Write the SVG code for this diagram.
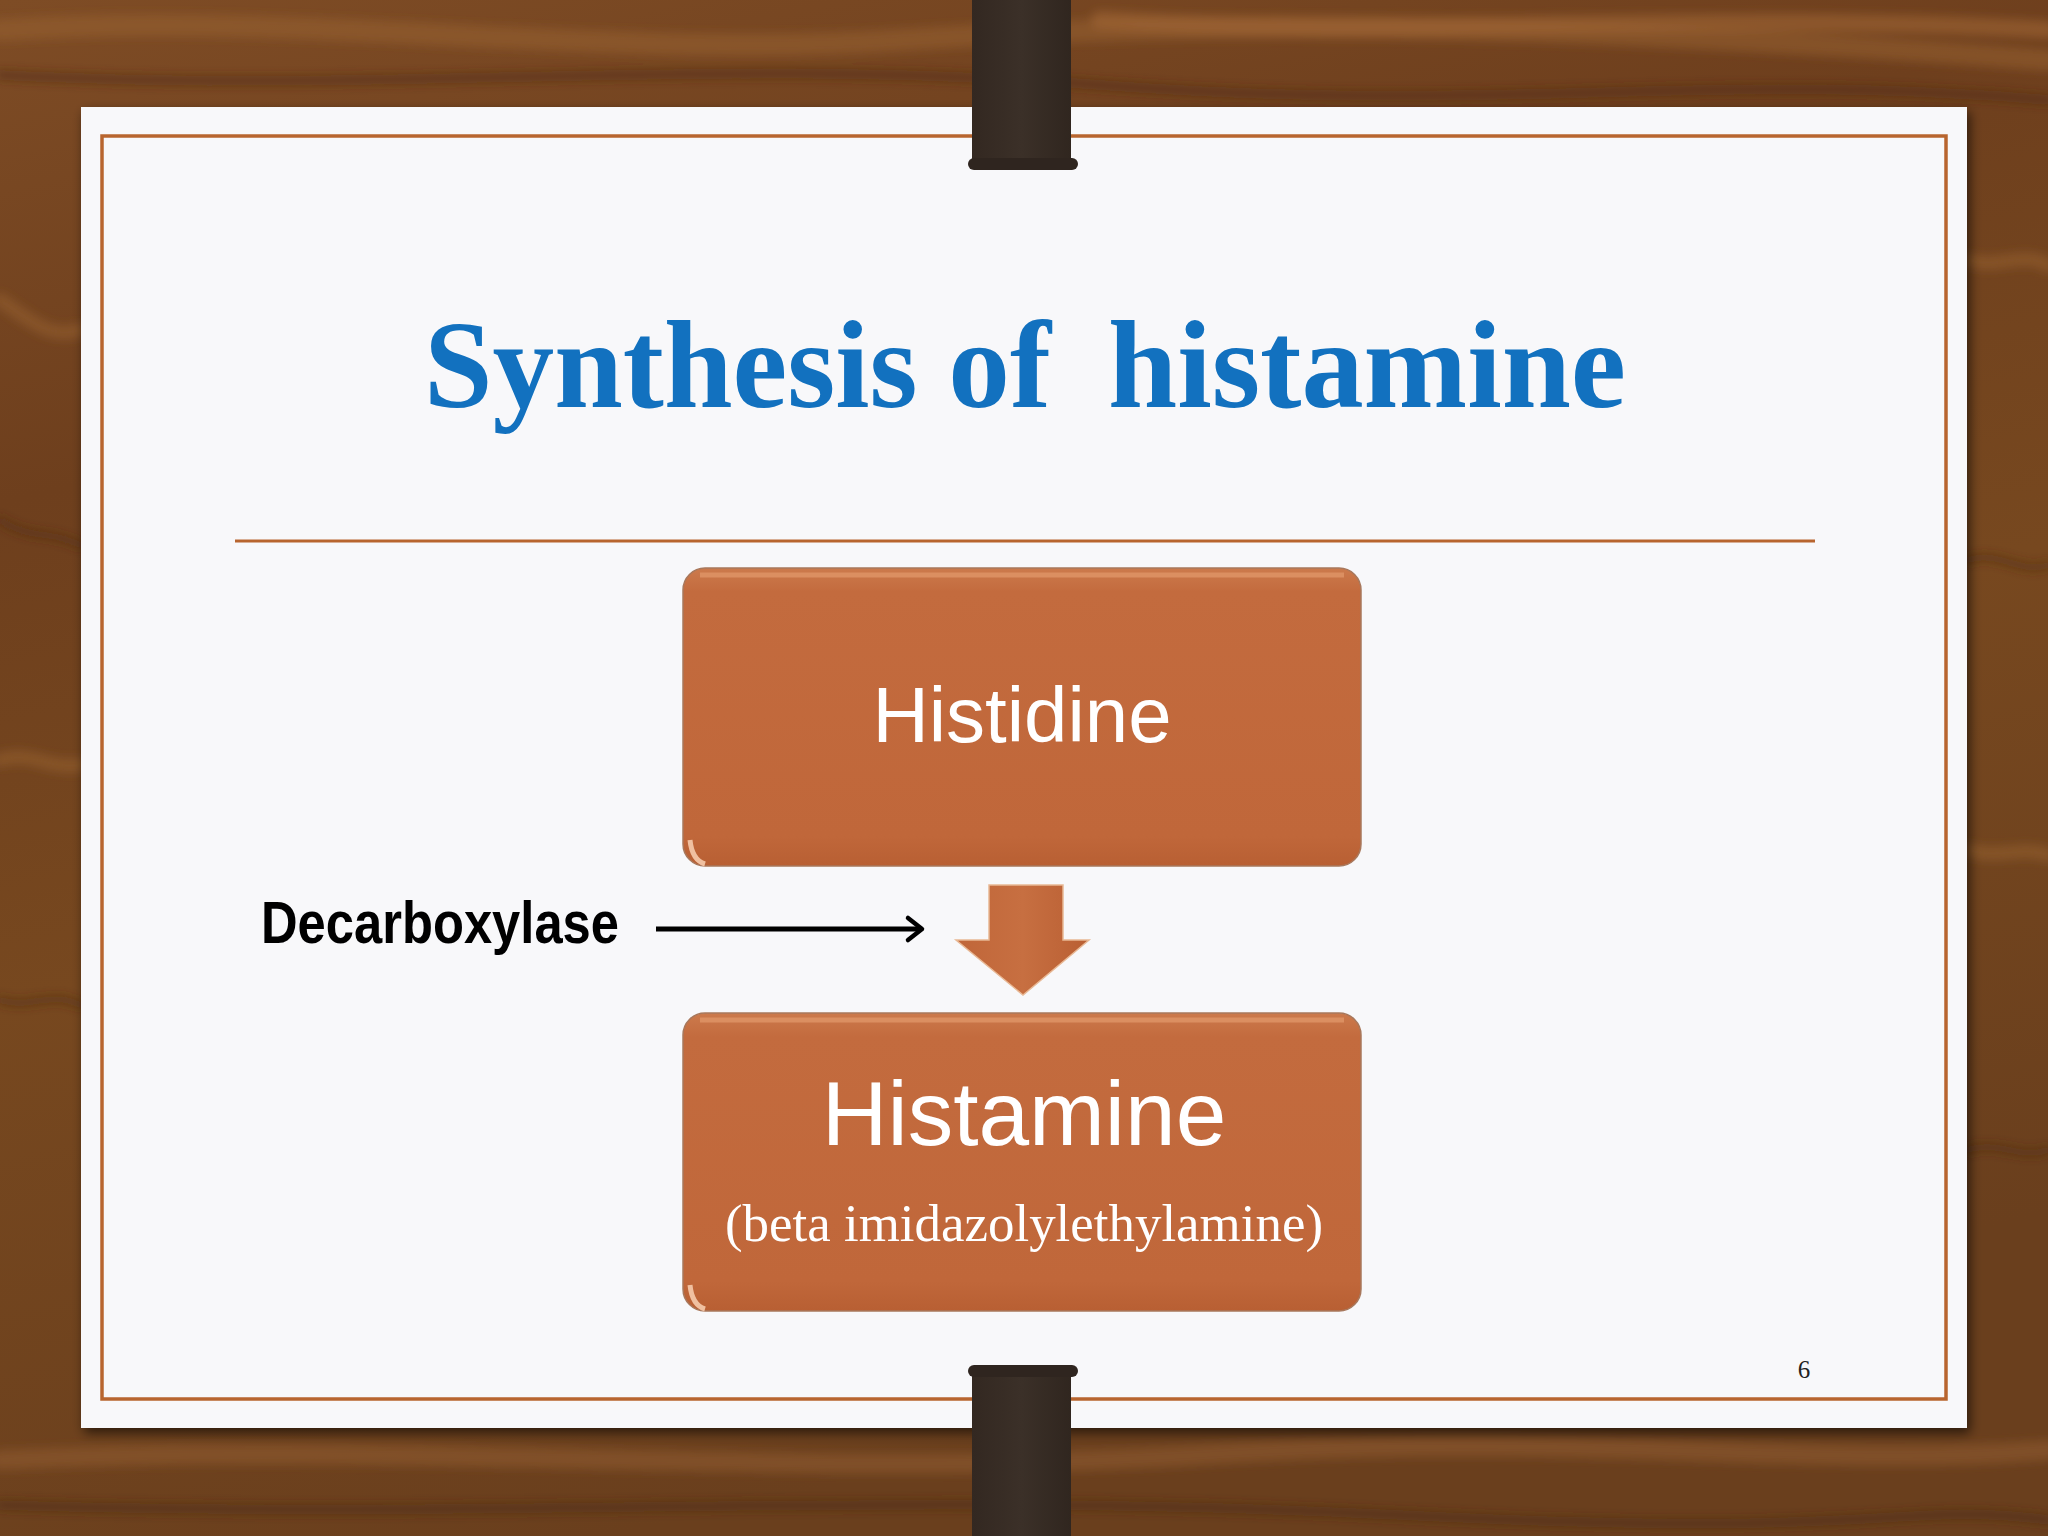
<svg xmlns="http://www.w3.org/2000/svg" width="2048" height="1536" viewBox="0 0 2048 1536">
<defs>
<linearGradient id="wood" x1="0" y1="0" x2="0.3" y2="1">
<stop offset="0" stop-color="#7e4c25"/>
<stop offset="0.3" stop-color="#6e3f1d"/>
<stop offset="0.6" stop-color="#77481f"/>
<stop offset="1" stop-color="#6a3f1d"/>
</linearGradient>
<linearGradient id="boxfill" x1="0" y1="0" x2="0" y2="1">
<stop offset="0" stop-color="#cc7a4c"/>
<stop offset="0.08" stop-color="#c36b3e"/>
<stop offset="0.9" stop-color="#c0673a"/>
<stop offset="1" stop-color="#b85f33"/>
</linearGradient>
<linearGradient id="arrowfill" x1="0" y1="0" x2="1" y2="0">
<stop offset="0" stop-color="#c06639"/>
<stop offset="0.5" stop-color="#c76f41"/>
<stop offset="1" stop-color="#b95f33"/>
</linearGradient>
<linearGradient id="clip" x1="0" y1="0" x2="1" y2="0">
<stop offset="0" stop-color="#332821"/>
<stop offset="0.5" stop-color="#3b3028"/>
<stop offset="1" stop-color="#30261f"/>
</linearGradient>
<filter id="shadow" x="-5%" y="-5%" width="110%" height="110%">
<feGaussianBlur in="SourceAlpha" stdDeviation="6"/>
<feOffset dx="3" dy="5"/>
<feComponentTransfer><feFuncA type="linear" slope="0.6"/></feComponentTransfer>
<feMerge><feMergeNode/><feMergeNode in="SourceGraphic"/></feMerge>
</filter>
<filter id="soft" x="-5%" y="-50%" width="110%" height="200%">
<feGaussianBlur stdDeviation="5"/>
</filter>
<marker id="open" viewBox="0 0 24 30" refX="20" refY="15" markerWidth="24" markerHeight="30" markerUnits="userSpaceOnUse" orient="auto">
<path d="M6 4 L20 15 L6 26" fill="none" stroke="#000" stroke-width="4.5" stroke-linecap="round" stroke-linejoin="round"/>
</marker>
</defs>
<style>
.frame{fill:none;stroke:#b8652f;stroke-width:3.5}
.box{fill:url(#boxfill);stroke:#a8785c;stroke-width:1.5}
.hl{fill:none;stroke:#e39a6c;stroke-width:5;stroke-opacity:0.7}
.lbl{font-family:"Liberation Sans",Arial,sans-serif;fill:#ffffff;text-anchor:middle}
.serif{font-family:"Liberation Serif","Times New Roman",serif}
.streak{fill:none;stroke-linecap:round}
</style>

<!-- wood background -->
<rect x="0" y="0" width="2048" height="1536" fill="url(#wood)"/>
<g class="streak" filter="url(#soft)">
<path d="M0 30 C300 10 600 60 900 40 S1500 20 2048 60" stroke="#9a6232" stroke-width="22" stroke-opacity="0.5"/>
<path d="M0 75 C400 95 700 55 1100 85 S1700 70 2048 100" stroke="#4e2b12" stroke-width="10" stroke-opacity="0.5"/>
<path d="M1100 20 C1400 40 1700 10 2048 30" stroke="#a86c38" stroke-width="18" stroke-opacity="0.5"/>
<path d="M0 1460 C400 1440 800 1480 1200 1455 S1800 1470 2048 1450" stroke="#9a6232" stroke-width="20" stroke-opacity="0.45"/>
<path d="M0 1505 C500 1520 900 1490 1400 1515 S1900 1500 2048 1520" stroke="#4a2810" stroke-width="10" stroke-opacity="0.5"/>
<path d="M0 300 C30 320 50 340 80 330" stroke="#9a6232" stroke-width="14" stroke-opacity="0.5"/>
<path d="M0 520 C30 540 50 530 80 545" stroke="#4e2b12" stroke-width="8" stroke-opacity="0.5"/>
<path d="M0 760 C30 750 50 770 80 765" stroke="#9a6232" stroke-width="14" stroke-opacity="0.5"/>
<path d="M0 1000 C30 1010 50 990 80 1005" stroke="#4e2b12" stroke-width="8" stroke-opacity="0.5"/>
<path d="M1968 260 C2000 270 2020 250 2048 265" stroke="#9a6232" stroke-width="14" stroke-opacity="0.5"/>
<path d="M1968 560 C2000 550 2020 575 2048 565" stroke="#4e2b12" stroke-width="8" stroke-opacity="0.5"/>
<path d="M1968 850 C2000 860 2020 845 2048 855" stroke="#9a6232" stroke-width="14" stroke-opacity="0.5"/>
<path d="M1968 1150 C2000 1140 2020 1160 2048 1150" stroke="#4e2b12" stroke-width="8" stroke-opacity="0.5"/>
</g>

<!-- card -->
<g id="card">
<rect x="81" y="107" width="1886" height="1321" fill="#f8f8fa" filter="url(#shadow)"/>
<rect class="frame" x="102" y="136" width="1844" height="1263"/>
<line x1="235" y1="541" x2="1815" y2="541" stroke="#b8652f" stroke-width="3"/>
</g>

<!-- clips -->
<g id="clip-top">
<rect x="972" y="0" width="99" height="168" fill="url(#clip)"/>
<rect x="968" y="158" width="110" height="12" rx="6" fill="#2f251f"/>
</g>
<g id="clip-bottom">
<rect x="972" y="1368" width="99" height="168" fill="url(#clip)"/>
<rect x="968" y="1365" width="110" height="12" rx="6" fill="#2f251f"/>
</g>

<!-- title -->
<g id="title" class="serif" font-weight="bold" font-size="124" fill="#1271bf">
<text x="424" y="407" textLength="627" lengthAdjust="spacingAndGlyphs">Synthesis of</text>
<text x="1108" y="407" textLength="518" lengthAdjust="spacingAndGlyphs">histamine</text>
</g>

<!-- node: Histidine -->
<g id="node-histidine">
<rect class="box" x="683" y="568" width="678" height="298" rx="22"/>
<path class="hl" d="M700 575 H1344"/>
<path d="M690 840 Q692 860 705 864" fill="none" stroke="#f0c0a0" stroke-width="5"/>
<text class="lbl" x="1022" y="742" font-size="78">Histidine</text>
</g>

<!-- node: Histamine -->
<g id="node-histamine">
<rect class="box" x="683" y="1013" width="678" height="298" rx="22"/>
<path class="hl" d="M700 1020 H1344"/>
<path d="M690 1285 Q692 1305 705 1309" fill="none" stroke="#f0c0a0" stroke-width="5"/>
<text class="lbl" x="1024" y="1145" font-size="91">Histamine</text>
<text class="serif" x="1024" y="1241" font-size="53" fill="#ffffff" text-anchor="middle" textLength="598" lengthAdjust="spacingAndGlyphs">(beta imidazolylethylamine)</text>
</g>

<!-- connectors -->
<g id="connectors">
<polygon points="989,885 1063,885 1063,940 1089,940 1023,995 956,940 989,940" fill="url(#arrowfill)" stroke="#e8b894" stroke-width="1.5"/>
<line x1="656" y1="929" x2="922" y2="929" stroke="#000" stroke-width="5" marker-end="url(#open)"/>
</g>

<!-- enzyme label -->
<g id="label-decarboxylase">
<text x="261" y="943" font-family="'Liberation Sans',Arial,sans-serif" font-weight="bold" font-size="60" fill="#000" textLength="358" lengthAdjust="spacingAndGlyphs">Decarboxylase</text>
</g>

<!-- page number -->
<text class="serif" x="1804" y="1378" font-size="25" fill="#222" text-anchor="middle">6</text>
</svg>
